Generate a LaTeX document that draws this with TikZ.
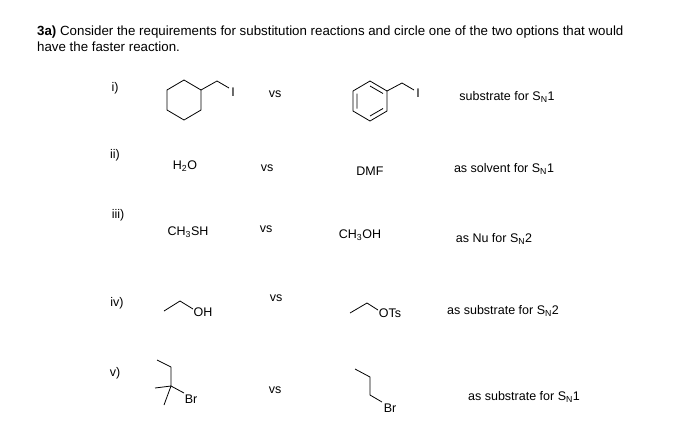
\documentclass[tikz,border=0pt]{standalone}
\usepackage{fontspec}
\setmainfont{Liberation Sans}
\newcommand{\sbs}[1]{\textsubscript{#1}}
\begin{document}
\begin{tikzpicture}[x=1pt,y=-1pt,font=\fontsize{12.5}{15}\selectfont,
  bond/.style={line width=0.8pt,line join=round},
  lbl/.style={inner sep=0pt,anchor=center}]
\useasboundingbox[fill=white] (0,0) rectangle (700,440);
\node[anchor=west,align=left,inner sep=0pt,font=\fontsize{13.3}{16}\selectfont] (title) at (37,39)
 {\textbf{3a)} Consider the requirements for substitution reactions and circle one of the two options that would\\have the faster reaction.};
% labels
\node[lbl] (l1) at (115,88) {i)};
\node[lbl] (l2) at (115,155) {ii)};
\node[lbl] (l3) at (118,215) {iii)};
\node[lbl] (l4) at (117,303) {iv)};
\node[lbl] (l5) at (115,373) {v)};
\node[lbl] (v1) at (275,94) {vs};
\node[lbl] (v2) at (267,168) {vs};
\node[lbl] (v3) at (266,229) {vs};
\node[lbl] (v4) at (276,298) {vs};
\node[lbl] (v5) at (275,390) {vs};
\node[lbl] (h2o) at (185,166) {H\sbs{2}O};
\node[lbl] (dmf) at (370,171) {DMF};
\node[lbl] (ch3sh) at (188,232) {CH\sbs{3}SH};
\node[lbl] (ch3oh) at (360,235) {CH\sbs{3}OH};
\node[lbl] (r1) at (507,97) {substrate for S\sbs{N}1};
\node[lbl] (r2) at (504,169) {as solvent for S\sbs{N}1};
\node[lbl] (r3) at (494,239) {as Nu for S\sbs{N}2};
\node[lbl] (r4) at (503,311) {as substrate for S\sbs{N}2};
\node[lbl] (r5) at (524,397) {as substrate for S\sbs{N}1};
% cyclohexylmethyl iodide
\draw[bond] (184,80) -- (201,90) -- (201,110) -- (184,120) -- (167,110) -- (167,90) -- cycle;
\draw[bond] (201,90) -- (217,81) -- (229,88);
\node[lbl] (i1) at (233,92) {I};
% benzyl iodide
\draw[bond] (370,81) -- (387,91) -- (387,111) -- (370,121) -- (353,111) -- (353,91) -- cycle;
\draw[bond] (370,86) -- (383,93.5) (383,108.5) -- (370,116) (357,108.5) -- (357,93.5);
\draw[bond] (387,91) -- (402,83) -- (414,90);
\node[lbl] (i2) at (418,93) {I};
% ethanol
\draw[bond] (164,311) -- (180,301) -- (193,309);
\node[lbl] (oh) at (203,312) {OH};
% ethyl tosylate
\draw[bond] (350,313) -- (367,303) -- (378,310);
\node[lbl] (ots) at (390,313) {OTs};
% t-amyl bromide
\draw[bond] (157,360) -- (171,367) -- (171,386) -- (155,388);
\draw[bond] (171,386) -- (164,405);
\draw[bond] (171,386) -- (184,393);
\node[lbl] (br1) at (191,399) {Br};
% propyl bromide
\draw[bond] (355,369) -- (370,377) -- (370,395) -- (382,402);
\node[lbl] (br2) at (390,408) {Br};
\end{tikzpicture}
\end{document}
